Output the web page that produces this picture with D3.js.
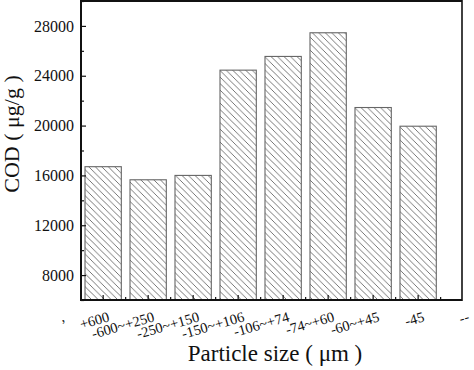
<!DOCTYPE html>
<html>
<head>
<meta charset="utf-8">
<script src="https://cdn.jsdelivr.net/npm/d3@7"></script>
<style>
  html, body { margin: 0; padding: 0; background: #fff; }
  svg { display: block; }
</style>
</head>
<body>
<svg id="chart" width="474" height="370"></svg>
<script>
// ---- data ----
const categories = ["+600", "-600~+250", "-250~+150", "-150~+106", "-106~+74", "-74~+60", "-60~+45", "-45"];
const codValues = [16700, 15650, 16000, 24450, 25550, 27450, 21450, 19950];
const yTicks = [8000, 12000, 16000, 20000, 24000, 28000];
const yMinorTicks = [6000, 10000, 14000, 18000, 22000, 26000, 30000];
const extraLabels = [{ pos: -1, text: "," }, { pos: 8, text: "--" }];
const yTitle = "COD ( μg/g )";
const xTitle = "Particle size ( μm )";

// ---- layout ----
const FONT = "'Liberation Serif', 'Times New Roman', Times, serif";
const mLeft = 81, mRight = 462, mTop = 1, mBottom = 300;
const svg = d3.select("#chart");

const y = d3.scaleLinear().domain([6000, 30000]).range([mBottom, mTop]);
const x = d3.scaleBand().domain(categories).range([81, 440.3]).paddingInner(0.193).paddingOuter(0.089);
const step = x.step();
const center = c => x(c) + x.bandwidth() / 2;
const posX = i => center(categories[0]) + i * step;

// hatch pattern
const defs = svg.append("defs");
const pat = defs.append("pattern")
  .attr("id", "hatch").attr("patternUnits", "userSpaceOnUse")
  .attr("width", 6.5).attr("height", 6.5);
pat.append("path")
  .attr("d", "M0,0 L6.5,6.5 M-1,5.5 L1,7.5 M5.5,-1 L7.5,1")
  .attr("stroke", "#555").attr("stroke-width", 0.8).attr("fill", "none");

// bars
svg.append("g").selectAll("rect").data(categories).join("rect")
  .attr("x", d => x(d))
  .attr("width", x.bandwidth())
  .attr("y", (d, i) => y(codValues[i]))
  .attr("height", (d, i) => mBottom - y(codValues[i]))
  .attr("fill", "url(#hatch)")
  .attr("stroke", "#666").attr("stroke-width", 1.1);

// y axis (ticks inside)
const yAxis = d3.axisLeft(y).tickValues(yTicks).tickSize(-5).tickPadding(7).tickFormat(d3.format("d"));
const gy = svg.append("g").attr("transform", `translate(${mLeft},0)`).call(yAxis);
gy.select(".domain").remove();
gy.selectAll(".tick line").attr("stroke", "#111").attr("stroke-width", 1.2);
gy.selectAll(".tick text").style("font-size", "16px").style("font-family", FONT).attr("fill", "#111");
const yMinor = d3.axisLeft(y).tickValues(yMinorTicks).tickSize(-3).tickFormat("");
const gym = svg.append("g").attr("transform", `translate(${mLeft},0)`).call(yMinor);
gym.select(".domain").remove();
gym.selectAll(".tick line").attr("stroke", "#111").attr("stroke-width", 1.2);

// x axis ticks (inside)
const xTickPos = categories.map((c, i) => posX(i));
const xMinorPos = d3.range(0, categories.length + 1).map(i => posX(i) - step / 2);
svg.append("g").selectAll("line").data(xTickPos).join("line")
  .attr("x1", d => d).attr("x2", d => d)
  .attr("y1", mBottom).attr("y2", mBottom - 5)
  .attr("stroke", "#111").attr("stroke-width", 1.2);
svg.append("g").selectAll("line").data(xMinorPos.filter(d => d > mLeft && d < mRight)).join("line")
  .attr("x1", d => d).attr("x2", d => d)
  .attr("y1", mBottom).attr("y2", mBottom - 3)
  .attr("stroke", "#111").attr("stroke-width", 1.2);

// frame
svg.append("line").attr("x1", mLeft).attr("x2", mRight).attr("y1", mTop).attr("y2", mTop)
  .attr("stroke", "#111").attr("stroke-width", 2);
svg.append("line").attr("x1", mLeft).attr("x2", mRight).attr("y1", mBottom).attr("y2", mBottom)
  .attr("stroke", "#111").attr("stroke-width", 2);
svg.append("line").attr("x1", mLeft).attr("x2", mLeft).attr("y1", mTop - 1).attr("y2", mBottom + 1)
  .attr("stroke", "#111").attr("stroke-width", 2);
svg.append("line").attr("x1", mRight).attr("x2", mRight).attr("y1", mTop - 1).attr("y2", mBottom + 1)
  .attr("stroke", "#111").attr("stroke-width", 1.6);

// x tick labels, rotated
const labelData = categories.map((c, i) => ({ pos: i, text: c })).concat(extraLabels);
svg.append("g").selectAll("text").data(labelData).join("text")
  .attr("transform", d => `translate(${posX(d.pos) + 7},${321}) rotate(-16)`)
  .attr("text-anchor", "end")
  .style("font-size", "14.5px").style("font-family", FONT).attr("fill", "#111")
  .text(d => d.text);

// axis titles
svg.append("text")
  .attr("transform", `translate(19,${134}) rotate(-90)`)
  .attr("text-anchor", "middle")
  .style("font-size", "22px").style("font-family", FONT).attr("fill", "#111")
  .text(yTitle);
svg.append("text")
  .attr("x", 275).attr("y", 361)
  .attr("text-anchor", "middle")
  .style("font-size", "23px").style("font-family", FONT).attr("fill", "#111")
  .text(xTitle);
</script>
</body>
</html>
